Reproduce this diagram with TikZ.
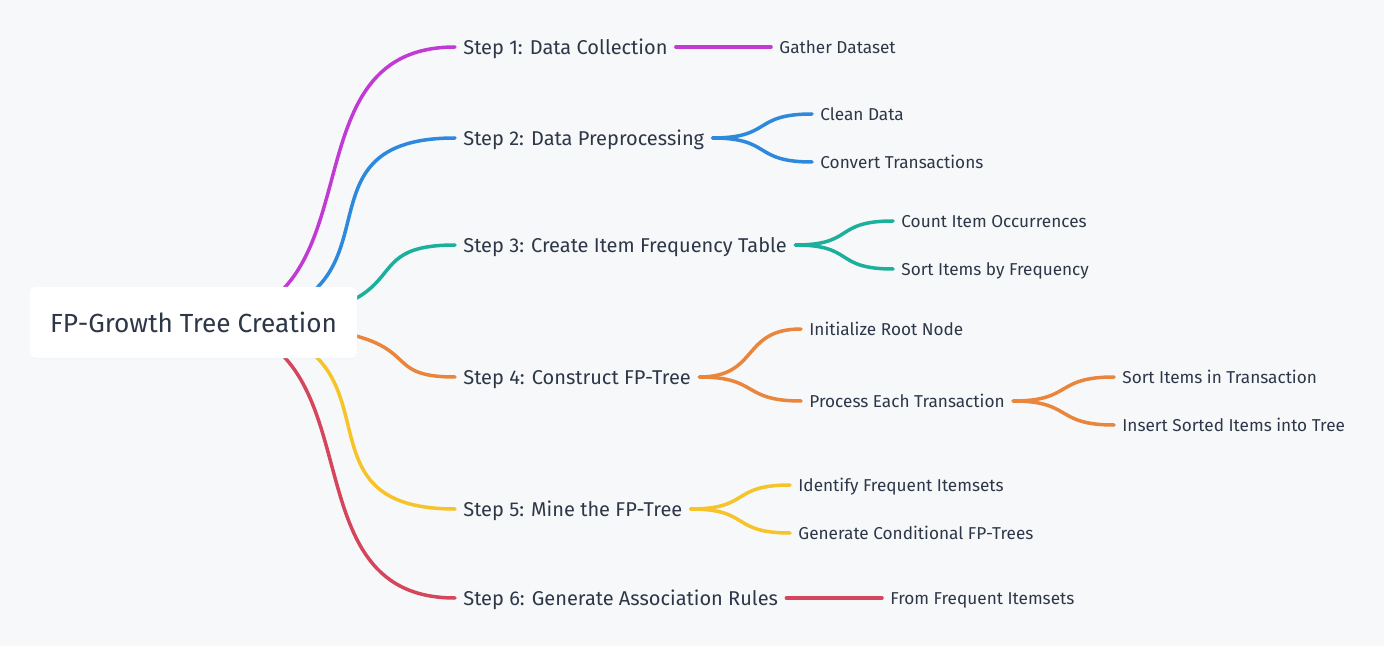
\documentclass[tikz,border=0pt]{standalone}
\usepackage{fontspec}
\setmainfont{Fira Sans}
\usetikzlibrary{backgrounds,shadows}

\definecolor{pagebg}{RGB}{247,248,250}
\definecolor{ink}{RGB}{45,55,72}
\definecolor{cpurple}{RGB}{193,58,212}
\definecolor{cblue}{RGB}{46,137,220}
\definecolor{cteal}{RGB}{28,176,156}
\definecolor{corange}{RGB}{233,134,60}
\definecolor{cyellow}{RGB}{246,195,40}
\definecolor{cred}{RGB}{213,70,92}

\begin{document}
\begin{tikzpicture}[x=0.5pt, y=-0.5pt,
   link/.style={line width=1.75pt, line cap=round},
   rootbox/.style={fill=white, rounded corners=2.5pt, minimum width=163.5pt, minimum height=35.5pt, text=ink, font=\fontsize{13.1}{15}\selectfont, drop shadow={opacity=0.04, shadow xshift=0pt, shadow yshift=-0.6pt}},
   stepnode/.style={anchor=west, inner xsep=4pt, inner ysep=0pt, text=ink, font=\fontsize{10}{12}\selectfont, text height=9.8pt, text depth=2.2pt},
   leaf/.style={anchor=west, inner xsep=4pt, inner ysep=0pt, text=ink, font=\fontsize{8.6}{10}\selectfont, text height=8.3pt, text depth=1.9pt}]
   \useasboundingbox (0,0) rectangle (1384,646);

   % central topic
   \node[rootbox] (root) at (193.5,322.5) {FP-Growth Tree Creation};

   % main steps
   \node[stepnode] (s1) at (455,47) {Step 1: Data Collection};
   \node[stepnode] (s2) at (455,138) {Step 2: Data Preprocessing};
   \node[stepnode] (s3) at (455,245) {Step 3: Create Item Frequency Table};
   \node[stepnode] (s4) at (455,377) {Step 4: Construct FP-Tree};
   \node[stepnode] (s5) at (455,509) {Step 5: Mine the FP-Tree};
   \node[stepnode] (s6) at (455,598) {Step 6: Generate Association Rules};

   % sub topics
   \node[leaf] (l11) at (771,47) {Gather Dataset};
   \node[leaf] (l21) at (812,114) {Clean Data};
   \node[leaf] (l22) at (812,162) {Convert Transactions};
   \node[leaf] (l31) at (893,221) {Count Item Occurrences};
   \node[leaf] (l32) at (893,269) {Sort Items by Frequency};
   \node[leaf] (l41) at (801,329) {Initialize Root Node};
   \node[leaf] (l42) at (801,401) {Process Each Transaction};
   \node[leaf] (l421) at (1114,377) {Sort Items in Transaction};
   \node[leaf] (l422) at (1114,425) {Insert Sorted Items into Tree};
   \node[leaf] (l51) at (790,485) {Identify Frequent Itemsets};
   \node[leaf] (l52) at (790,533) {Generate Conditional FP-Trees};
   \node[leaf] (l61) at (882,598) {From Frequent Itemsets};

   \begin{scope}[on background layer]
   \fill[pagebg] (0,0) rectangle (1384,646);

   % root to steps
   \draw[link, cpurple] (root.center) .. controls +(195,0) and +(-179,0) .. (s1.west);
   \draw[link, cblue] (root.center) .. controls +(242,0) and +(-185,0) .. (s2.west);
   \draw[link, cteal] (root.center) .. controls +(254,0) and +(-118,0) .. (s3.west);
   \draw[link, corange] (root.center) .. controls +(267,0) and +(-97,0) .. (s4.west);
   \draw[link, cyellow] (root.center) .. controls +(242,0) and +(-185,0) .. (s5.west);
   \draw[link, cred] (root.center) .. controls +(195,0) and +(-179,0) .. (s6.west);
   \end{scope}

   % steps to sub topics
   \draw[link, cpurple] (s1.east) -- (l11.west);
   \draw[link, cblue] (s2.east) .. controls +(60,0) and +(-60,0) .. (l21.west);
   \draw[link, cblue] (s2.east) .. controls +(60,0) and +(-60,0) .. (l22.west);
   \draw[link, cteal] (s3.east) .. controls +(60,0) and +(-60,0) .. (l31.west);
   \draw[link, cteal] (s3.east) .. controls +(60,0) and +(-60,0) .. (l32.west);
   \draw[link, corange] (s4.east) .. controls +(60,0) and +(-60,0) .. (l41.west);
   \draw[link, corange] (s4.east) .. controls +(60,0) and +(-60,0) .. (l42.west);
   \draw[link, corange] (l42.east) .. controls +(60,0) and +(-60,0) .. (l421.west);
   \draw[link, corange] (l42.east) .. controls +(60,0) and +(-60,0) .. (l422.west);
   \draw[link, cyellow] (s5.east) .. controls +(60,0) and +(-60,0) .. (l51.west);
   \draw[link, cyellow] (s5.east) .. controls +(60,0) and +(-60,0) .. (l52.west);
   \draw[link, cred] (s6.east) -- (l61.west);
\end{tikzpicture}
\end{document}
